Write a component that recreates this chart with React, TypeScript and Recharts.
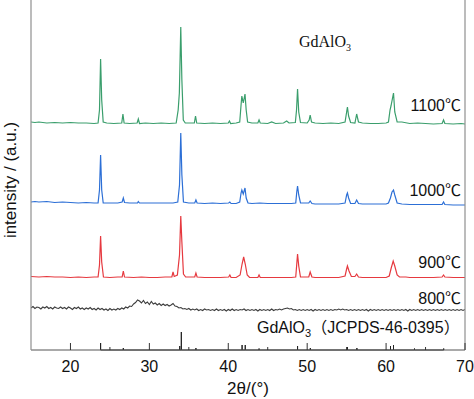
import { ComposedChart, Line, XAxis, YAxis } from 'recharts';

// XRD patterns of GdAlO3 powders, [2θ, intensity (a.u., stacked)]
const pattern1100: [number, number][] = [
  [15, 228], [15.5, 227.5], [16, 228], [17, 227], [18, 227.5], [19, 227], [20, 227.5], [21, 227], [22, 227],
  [23, 226.5], [23.5, 227], [23.68, 240], [23.82, 291], [23.96, 250], [24.15, 228], [24.6, 227], [25.5, 226.5],
  [26.5, 227], [26.65, 236], [26.8, 227], [27.5, 226.5], [28.45, 227], [28.6, 231], [28.75, 226.5], [29.5, 227],
  [30.5, 226.5], [31.5, 227], [32.5, 226.5], [33.4, 227], [33.65, 240], [33.8, 257], [33.98, 323], [34.12, 270],
  [34.3, 230], [34.55, 227], [35.7, 227], [35.85, 234], [36, 227], [37, 226.5], [38, 227], [39, 226.5], [40, 227],
  [40.15, 229], [40.3, 226.5], [41, 227], [41.45, 228], [41.62, 245], [41.72, 254], [41.9, 247], [42.12, 256],
  [42.27, 240], [42.45, 228], [43, 227], [43.75, 227], [43.9, 230], [44.05, 227], [45, 226.5], [45.5, 228],
  [46, 226.5], [47, 227], [47.4, 229], [47.7, 227], [48.5, 227.5], [48.65, 240], [48.78, 261], [48.93, 238],
  [49.15, 227.5], [50, 227], [50.25, 230], [50.38, 235], [50.55, 228], [51, 227], [52, 226.5], [53, 227],
  [54, 226.5], [54.8, 228], [55, 238], [55.1, 243], [55.25, 234], [55.5, 227.5], [56.05, 227], [56.27, 236],
  [56.5, 228], [57, 227], [58, 226.5], [59, 226.5], [60, 227], [60.3, 228], [60.5, 240], [60.62, 244],
  [60.94, 257], [61.1, 238], [61.4, 228], [62, 228], [63, 226.5], [64, 227], [65, 226.5], [66, 226],
  [67.1, 226.5], [67.28, 230], [67.45, 226.5], [68.5, 226], [69.5, 226.5], [70, 226],
];

const pattern1000: [number, number][] = [
  [15, 148], [15.5, 148.5], [16, 148], [17, 148.5], [18, 147.5], [19, 148], [20, 147.5], [21, 147], [22, 147.5],
  [23, 147], [23.5, 147], [23.68, 160], [23.82, 195], [23.96, 160], [24.15, 147], [25, 147], [26, 147],
  [26.55, 148], [26.7, 152], [26.85, 147.5], [27.5, 147], [28.5, 147], [28.6, 148.5], [28.75, 147], [30, 147],
  [31, 147], [32, 147], [33, 147], [33.6, 148], [33.82, 165], [33.98, 217], [34.12, 175], [34.32, 148], [35, 147],
  [35.75, 147], [35.9, 150], [36.05, 147], [37, 146.5], [38, 147], [39, 146.5], [40.05, 147], [40.2, 148],
  [40.35, 146.5], [41, 146.5], [41.45, 148], [41.62, 157], [41.72, 160], [41.9, 156], [42.12, 162],
  [42.27, 152], [42.5, 147], [43, 146.5], [44, 147], [45, 146.5], [46, 146.5], [47, 146.5], [48, 146.5],
  [48.55, 147], [48.68, 158], [48.78, 164], [48.93, 155], [49.15, 147], [50.2, 147], [50.38, 149],
  [50.6, 146.5], [51, 146], [52, 146], [53, 146], [54, 146], [54.8, 147], [55, 155], [55.1, 157], [55.25, 152],
  [55.5, 146.5], [56.05, 146.5], [56.27, 150], [56.5, 146.5], [57, 146], [58, 146], [59, 146], [60, 146],
  [60.3, 147], [60.55, 152], [60.75, 158], [60.94, 160], [61.1, 155], [61.4, 147], [62, 146], [63, 145.5],
  [64, 145.5], [65, 145.5], [66, 145.5], [67.1, 145.5], [67.28, 148], [67.45, 145.5], [68.5, 145], [69.5, 145],
  [70, 145],
];

const pattern900: [number, number][] = [
  [15, 73.5], [16, 73], [17, 73.5], [18, 73], [19, 73], [20, 72.5], [21, 73], [22, 72.5], [23, 73],
  [23.5, 73], [23.68, 85], [23.82, 114], [23.96, 88], [24.18, 73], [25, 72.5], [26, 73], [26.55, 73],
  [26.7, 79], [26.85, 73], [28, 72.5], [29, 73], [30, 72.5], [31, 72.5], [32, 73], [32.85, 73], [33, 78],
  [33.15, 73.5], [33.55, 75], [33.82, 95], [33.98, 134], [34.12, 108], [34.32, 76], [34.6, 73], [35.75, 73],
  [35.9, 77], [36.05, 73], [37, 72.5], [38, 72.5], [39, 72.5], [40.05, 73], [40.2, 75], [40.35, 72.5], [41, 72.5],
  [41.5, 75], [41.75, 86], [41.95, 93], [42.15, 86], [42.4, 75], [42.7, 72.5], [43.75, 72.5], [43.9, 75],
  [44.05, 72.5], [45, 72.5], [46, 72.5], [47, 72.5], [48, 72.5], [48.55, 73], [48.68, 86], [48.78, 96],
  [48.93, 84], [49.15, 73], [50.2, 73], [50.38, 78], [50.6, 73], [51, 72.5], [52, 72.5], [53, 72.5], [54, 72.5],
  [54.8, 74], [55, 81], [55.1, 84], [55.3, 79], [55.6, 73.5], [56.05, 73.5], [56.27, 76], [56.5, 73], [57, 72.5],
  [58, 72.5], [59, 72.5], [60, 72.5], [60.4, 74], [60.65, 82], [60.9, 89], [61.1, 84], [61.4, 75], [61.7, 73],
  [62.5, 73], [63, 72.5], [64, 72.5], [65, 72.5], [66, 72.5], [67.1, 73], [67.28, 75], [67.45, 73], [68.5, 72.5],
  [69.5, 72.5], [70, 72.5],
];

const pattern800: [number, number][] = [
  [15, 42], [15.25, 43.5], [15.5, 41.5], [15.75, 43], [16, 42.5], [16.25, 41], [16.5, 43], [16.75, 42],
  [17, 43.5], [17.25, 41.5], [17.5, 42.5], [17.75, 41], [18, 43], [18.25, 42], [18.5, 41.5], [18.75, 43],
  [19, 41.5], [19.25, 42.5], [19.5, 41], [19.75, 43], [20, 42], [20.25, 40.5], [20.5, 42.5], [20.75, 41.5],
  [21, 43], [21.25, 41], [21.5, 42], [21.75, 40.5], [22, 42], [22.25, 41], [22.5, 42.5], [22.75, 40.5],
  [23, 41.5], [23.25, 40], [23.5, 42], [23.75, 40.5], [24, 41.5], [24.25, 40], [24.5, 41], [24.75, 39.5],
  [25, 41.5], [25.25, 40], [25.5, 41], [25.75, 40], [26, 41.5], [26.25, 40.5], [26.5, 42], [26.75, 41],
  [27, 43], [27.25, 42], [27.5, 44], [27.75, 43.5], [28, 46], [28.25, 47.5], [28.5, 50], [28.75, 49],
  [29, 47], [29.25, 49.5], [29.5, 46.5], [29.75, 48], [30, 45.5], [30.25, 48.5], [30.5, 46], [30.75, 47],
  [31, 45], [31.25, 46.5], [31.5, 44.5], [31.75, 46], [32, 44.5], [32.25, 45.5], [32.5, 44], [32.75, 45],
  [33, 46.5], [33.25, 44], [33.5, 43.5], [33.75, 42], [34, 42.5], [34.25, 41], [34.5, 41.5], [34.75, 40.5],
  [35, 41.5], [35.25, 40], [35.5, 41], [35.75, 40], [36, 41], [36.25, 39.5], [36.5, 40.5], [36.75, 39.5],
  [37, 41], [37.25, 40], [37.5, 40.5], [37.75, 39.5], [38, 40.5], [38.25, 39.5], [38.5, 41], [38.75, 39.5],
  [39, 40.5], [39.25, 39.5], [39.5, 40.5], [39.75, 39], [40, 40.5], [40.25, 39.5], [40.5, 41], [40.75, 39.5],
  [41, 40.5], [41.25, 39.5], [41.5, 40.5], [41.75, 40], [42, 41], [42.25, 39.5], [42.5, 40.5], [42.75, 39.5],
  [43, 40.5], [43.25, 39.5], [43.5, 40.5], [43.75, 39], [44, 40.5], [44.25, 39.5], [44.5, 40.5], [44.75, 39.5],
  [45, 40.5], [45.25, 39.5], [45.5, 41], [45.75, 39.5], [46, 40.5], [46.25, 40], [46.5, 41], [46.75, 40],
  [47, 41], [47.25, 41.5], [47.5, 42], [47.75, 41], [48, 41.5], [48.25, 40], [48.5, 40.5], [48.75, 39.5],
  [49, 40.5], [49.25, 39.5], [49.5, 40.5], [49.75, 39.5], [50, 40.5], [50.25, 39.5], [50.5, 40.5], [50.75, 39],
  [51, 40.5], [51.25, 39.5], [51.5, 40.5], [51.75, 39.5], [52, 40.5], [52.25, 39.5], [52.5, 40.5], [52.75, 39.5],
  [53, 40.5], [53.25, 39.5], [53.5, 40.5], [53.75, 40], [54, 41], [54.25, 40], [54.5, 41], [54.75, 40],
  [55, 40.5], [55.25, 39.5], [55.5, 40.5], [55.75, 39.5], [56, 40.5], [56.25, 39.5], [56.5, 40.5], [56.75, 39.5],
  [57, 40.5], [57.25, 39.5], [57.5, 40.5], [57.75, 39], [58, 40.5], [58.25, 39.5], [58.5, 40.5], [58.75, 39.5],
  [59, 40.5], [59.25, 39.5], [59.5, 40.5], [59.75, 39.5], [60, 40.5], [60.25, 39.5], [60.5, 40.5], [60.75, 39.5],
  [61, 40.5], [61.25, 39.5], [61.5, 40.5], [61.75, 39.5], [62, 40.5], [62.25, 39.5], [62.5, 40.5], [62.75, 39],
  [63, 40.5], [63.25, 39.5], [63.5, 40.5], [63.75, 39.5], [64, 40.5], [64.25, 39.5], [64.5, 40.5], [64.75, 39.5],
  [65, 40.5], [65.25, 39.5], [65.5, 40.5], [65.75, 39.5], [66, 40.5], [66.25, 39.5], [66.5, 40.5], [66.75, 39.5],
  [67, 40.5], [67.25, 39.5], [67.5, 40.5], [67.75, 39.5], [68, 40.5], [68.25, 39.5], [68.5, 40.5], [68.75, 39.5],
  [69, 40.5], [69.25, 39.5], [69.5, 40.5], [69.75, 39.5], [70, 40.5],
];

// JCPDS 46-0395 reference lines [2θ, relative height]
const jcpdsLines: [number, number][] = [
  [23.82, 7], [26.7, 2], [33.85, 4], [34.05, 18], [35.9, 2], [41.75, 5], [42.15, 5], [43.9, 1.5],
  [48.78, 4], [50.4, 2], [55.1, 3], [56.3, 2], [60.56, 4], [60.94, 5], [63.6, 1.5], [67.3, 1.5],
];

const xTicks = [20, 25, 30, 35, 40, 45, 50, 55, 60, 65, 70];

const toPoints = (arr: [number, number][]) => arr.map(([x, y]) => ({ x, y }));
const stickPoints = jcpdsLines.flatMap(([x, h]) => [{ x, y: 0 }, { x, y: h }, { x, y: 0 }]);

const series = [
  { name: '1100', data: toPoints(pattern1100), color: '#3a9e6c', width: 1.2 },
  { name: '1000', data: toPoints(pattern1000), color: '#2c6fd6', width: 1.2 },
  { name: '900', data: toPoints(pattern900), color: '#e6393f', width: 1.2 },
  { name: '800', data: toPoints(pattern800), color: '#3d3d3d', width: 1.1 },
];

const SANS = '"Liberation Sans", Arial, "Noto Sans CJK SC", sans-serif';
const CJK = '"Noto Sans CJK SC", sans-serif';

// eslint-disable-next-line @typescript-eslint/no-explicit-any
const AxisTick = ({ x, y, payload }: any) => {
  const major = payload.value % 10 === 0;
  return (
    <g>
      <line x1={x} x2={x} y1={y} y2={y - (major ? 7 : 3)} stroke="#333" />
      {major && (
        <text x={x} y={y + 22} textAnchor="middle" fontSize={16} fontFamily={SANS} fill="#111">
          {payload.value}
        </text>
      )}
    </g>
  );
};

const TempLabel = ({ y, t }: { y: number; t: string }) => (
  <text x={461} y={y} textAnchor="end" fontFamily={SANS} fontSize={16} fill="#111">
    {t}
    <tspan fontFamily={CJK} fontSize={16}>℃</tspan>
  </text>
);

export default function App() {
  return (
    <div style={{ position: 'relative', width: 474, height: 399, background: '#fff' }}>
      <style>{'body{margin:0}'}</style>
      <ComposedChart width={474} height={399} margin={{ top: 0, right: 8, left: 30, bottom: 0 }}>
        <XAxis
          dataKey="x"
          type="number"
          domain={[15, 70]}
          ticks={xTicks}
          allowDataOverflow
          height={49}
          tickSize={0}
          tickMargin={0}
          tickLine={false}
          tick={<AxisTick />}
          axisLine={{ stroke: '#555' }}
          interval={0}
        />
        <YAxis yAxisId="left" type="number" domain={[0, 350]} width={1} tick={false} tickLine={false} axisLine={{ stroke: '#8f8f8f', strokeWidth: 1.2 }} />
        <YAxis yAxisId="right" orientation="right" type="number" domain={[0, 350]} width={1} tick={false} tickLine={false} axisLine={{ stroke: '#8f8f8f', strokeWidth: 1.2 }} />
        <Line yAxisId="right" data={stickPoints} dataKey="y" type="linear" stroke="#222" strokeWidth={1} dot={false} isAnimationActive={false} />
        {series.map((s) => (
          <Line
            key={s.name}
            yAxisId="left"
            data={s.data}
            dataKey="y"
            type="linear"
            stroke={s.color}
            strokeWidth={s.width}
            dot={false}
            isAnimationActive={false}
          />
        ))}
      </ComposedChart>
      <svg width={474} height={399} style={{ position: 'absolute', left: 0, top: 0, pointerEvents: 'none' }}>
        <text x={299} y={47} fontSize={16} fontFamily='"Liberation Serif", "Times New Roman", serif' fill="#111">
          GdAlO<tspan fontSize={10} dy={4}>3</tspan>
        </text>
        <TempLabel y={111} t="1100" />
        <TempLabel y={196} t="1000" />
        <TempLabel y={268} t="900" />
        <TempLabel y={304} t="800" />
        <text x={257} y={333} fontFamily={SANS} fontSize={16} fill="#111">
          GdAlO<tspan fontSize={11} dy={4}>3</tspan>
          <tspan dy={-4} fontFamily={CJK}>（</tspan>
          <tspan>JCPDS-46-0395</tspan>
          <tspan fontFamily={CJK}>）</tspan>
        </text>
        <text x={248} y={394} textAnchor="middle" fontFamily={SANS} fontSize={17} fill="#111">
          2θ/(°)
        </text>
        <text
          transform="translate(16, 180) rotate(-90)"
          textAnchor="middle"
          fontFamily={SANS}
          fontSize={17}
          fill="#111"
        >
          intensity / (a.u.)
        </text>
      </svg>
    </div>
  );
}
